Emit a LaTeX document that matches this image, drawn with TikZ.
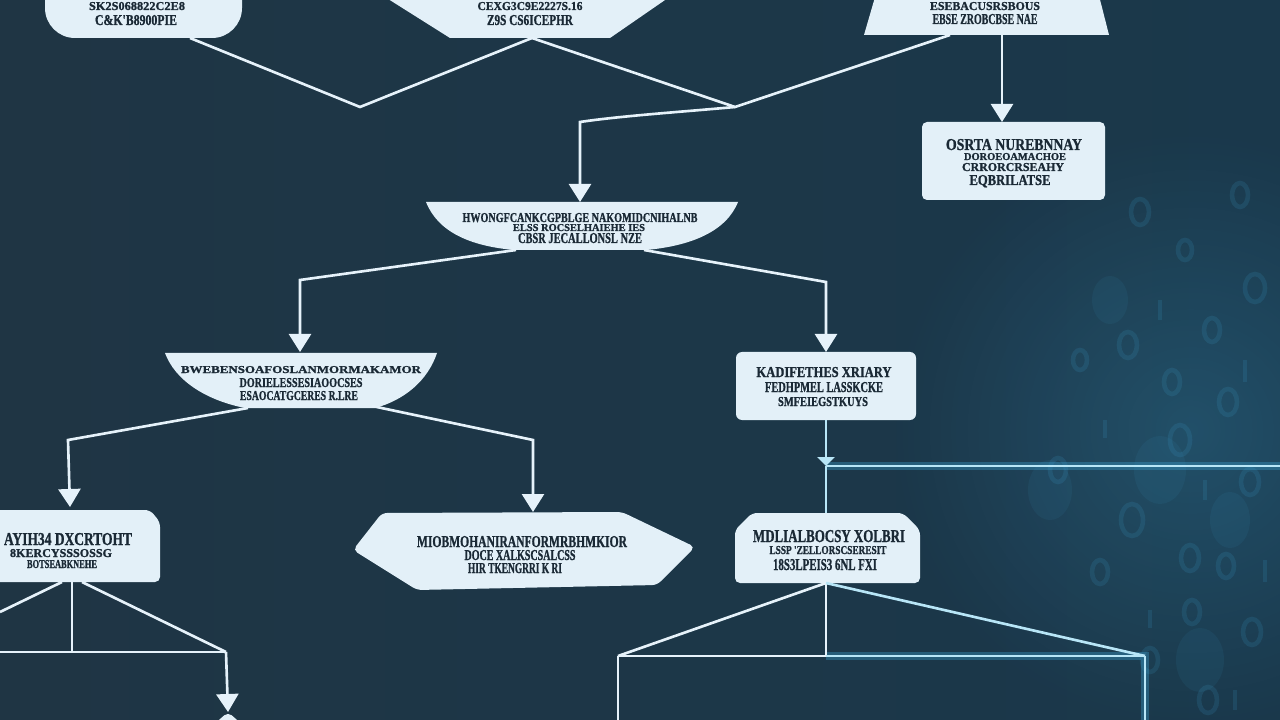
\documentclass[tikz,border=0pt]{standalone}
\usepackage{fontspec}
\usepackage{graphicx}
\newfontfamily\lblfont[BoldFeatures={FakeBold=1.2}]{Liberation Serif}
\usetikzlibrary{arrows.meta,fadings}
\tikzfading[name=glowfade,inner color=transparent!0,outer color=transparent!100]
\definecolor{bgL}{HTML}{1F3544}
\definecolor{bgM}{HTML}{182B38}
\definecolor{bgR}{HTML}{1A384B}
\definecolor{boxfill}{HTML}{E3F0F8}
\definecolor{txt}{HTML}{1A2935}
\definecolor{wire}{HTML}{E6F2FA}
\definecolor{cyanwire}{HTML}{B8E6F7}
\definecolor{glow}{HTML}{3DA4D4}
\newcommand\fitline[3]{\resizebox{\dimexpr0.2mm*#1\relax}{\dimexpr0.2mm*#2\relax}{\lblfont\bfseries #3}}
\begin{document}
\begin{tikzpicture}[x=0.2mm,y=-0.2mm,
  shapebox/.style={fill=boxfill,draw=none},
  ln/.style={text=txt,inner sep=0pt,anchor=base},
  wireline/.style={draw=wire,line width=1.5pt},
  cwire/.style={draw=cyanwire,line width=1.5pt},
  halo/.style={draw=glow,line width=4pt,opacity=0.35},
  tip/.style={-{Triangle[length=3.6mm,width=4.4mm]}},
  smalltip/.style={-{Triangle[length=1.8mm,width=3.4mm]}},
  bokeh/.style={draw=glow,line width=2.6pt,opacity=0.15},
  bokehfill/.style={fill=glow,opacity=0.08},
]
\useasboundingbox (0,0) rectangle (1280,720);
\clip (0,0) rectangle (1280,720);
% background
\shade[left color=bgL,middle color=bgM,right color=bgR] (0,0) rectangle (1280,720);
\fill[glow,path fading=glowfade,opacity=0.22] (1190,430) circle (300);
% bokeh digits (decorative, blurred)
\foreach \px/\py/\rx/\ry in {1140/212/9/13,1255/288/10/14,1212/330/8/12,1128/345/9/13,1172/382/8/12,
  1228/402/9/13,1058/470/8/12,1132/520/11/16,1250/482/9/13,1190/558/9/13,1226/566/8/12,
  1100/572/8/12,1192/612/8/12,1252/632/9/13,1208/700/9/13,1150/660/8/12,1180/440/10/15,1080/360/7/10,
  1240/195/8/12,1185/250/7/10}{
  \draw[bokeh] (\px,\py) ellipse ({\rx} and {\ry});
}
\foreach \px/\py/\rx/\ry in {1050/490/22/30,1160/470/26/34,1230/520/20/28,1110/300/18/24,1200/660/24/32}{
  \fill[bokehfill] (\px,\py) ellipse ({\rx} and {\ry});
}
\foreach \px/\py/\h in {1160/300/20,1245/360/22,1105/420/18,1205/480/20,1265/560/22,1150/610/18,1235/690/20}{
  \draw[bokeh] (\px,\py) -- ++(0,\h);
}

% ---------- shapes ----------
% top-left rounded box
\path[shapebox,rounded corners=6mm] (45,-40) rectangle (242,38);
\node[ln] (tl-1) at (137,10) {\fitline{96}{8}{SK2S068822C2E8}};
\node[ln] (tl-2) at (136,25) {\fitline{82}{10}{C\&K'B8900PIE}};
\coordinate (tl-s) at (190,38);
% top-middle hexagon
\path[shapebox] (358,-20) -- (450,38) -- (610,38) -- (694,-20) -- cycle;
\node[ln] (tm-1) at (530,10) {\fitline{105}{8}{CEXG3C9E2227S.16}};
\node[ln] (tm-2) at (530,25) {\fitline{86}{10}{Z9S CS6ICEPHR}};
\coordinate (tm-s) at (532,38);
% top-right trapezoid
\path[shapebox] (880,-20) -- (864,35) -- (1109,35) -- (1095,-20) -- cycle;
\node[ln] (tr-1) at (985,10) {\fitline{110}{8}{ESEBACUSRSBOUS}};
\node[ln] (tr-2) at (985,24) {\fitline{105}{10}{EBSE ZROBCBSE NAE}};
\coordinate (tr-sw) at (950,35);
\coordinate (tr-s) at (1002,35);
% right box r1
\path[shapebox,rounded corners=1mm] (922,122) rectangle (1105,200);
\node[ln] (r1-1) at (1014,150) {\fitline{136}{11}{OSRTA NUREBNNAY}};
\node[ln] (r1-2) at (1015,160) {\fitline{102}{7}{DOROEOAMACHOE}};
\node[ln] (r1-3) at (1013,171) {\fitline{102}{8}{CRRORCRSEAHY}};
\node[ln] (r1-4) at (1010,185) {\fitline{81}{10}{EQBRILATSE}};
\coordinate (r1-n) at (1002,122);
% center bowl
\path[shapebox] (426,202) -- (738,202) .. controls (726,232) and (690,246) .. (646,250)
  -- (514,250) .. controls (470,246) and (438,232) .. cycle;
\node[ln] (c-1) at (580,222) {\fitline{235}{9}{HWONGFCANKCGPBLGE NAKOMIDCNIHALNB}};
\node[ln] (c-2) at (579,231) {\fitline{132}{7}{ELSS ROCSELHAIEHE IES}};
\node[ln] (c-3) at (580,243) {\fitline{124}{10}{CBSR JECALLONSL NZE}};
\coordinate (c-n) at (580,202);
\coordinate (c-sw) at (516,250);
\coordinate (c-se) at (644,250);
% mid-left bowl
\path[shapebox] (165,353) -- (437,353) .. controls (428,380) and (405,400) .. (375,408)
  -- (245,408) .. controls (205,400) and (175,380) .. cycle;
\node[ln] (ml-1) at (301,373) {\fitline{240}{7}{BWEBENSOAFOSLANMORMAKAMOR}};
\node[ln] (ml-2) at (301,387) {\fitline{123}{9}{DORIELESSESIAOOCSES}};
\node[ln] (ml-3) at (299,400) {\fitline{118}{9}{ESAOCATGCERES R.LRE}};
\coordinate (ml-n) at (300,352);
\coordinate (ml-sw) at (248,408);
\coordinate (ml-se) at (372,406);
% mid-right box
\path[shapebox,rounded corners=1.2mm] (736,352) rectangle (916,420);
\node[ln] (mr-1) at (824,377) {\fitline{135}{10}{KADIFETHES XRIARY}};
\node[ln] (mr-2) at (824,392) {\fitline{118}{10}{FEDHPMEL LASSKCKE}};
\node[ln] (mr-3) at (823,406) {\fitline{90}{9}{SMFEIEGSTKUYS}};
\coordinate (mr-n) at (826,352);
\coordinate (mr-s) at (826,420);
% lower-left box
\path[shapebox,rounded corners=1mm] (-10,582) -- (-10,510) -- (150,510) -- (160,522) -- (160,582) -- cycle;
\node[ln] (ll-1) at (68,545) {\fitline{128}{12}{AYIH34 DXCRTOHT}};
\node[ln] (ll-2) at (61,557) {\fitline{102}{8}{8KERCYSSSOSSG}};
\node[ln] (ll-3) at (62,568) {\fitline{70}{8}{BOTSEABKNEHE}};
\coordinate (ll-n) at (70,507);
\coordinate (ll-s1) at (62,582);
\coordinate (ll-s) at (72,582);
\coordinate (ll-s2) at (82,582);
% lower-middle hexagon
\path[shapebox,rounded corners=1mm] (353,550) -- (382,513) -- (622,512) -- (695,547) -- (657,585) -- (417,590) -- cycle;
\node[ln] (lm-1) at (522,547) {\fitline{210}{11}{MIOBMOHANIRANFORMRBHMKIOR}};
\node[ln] (lm-2) at (520,560) {\fitline{111}{10}{DOCE XALKSCSALCSS}};
\node[ln] (lm-3) at (515,573) {\fitline{94}{10}{HIR TKENGRRI K RI}};
\coordinate (lm-n) at (533,512);
% lower-right box
\path[shapebox,rounded corners=1mm] (735,583) -- (735,530) -- (752,513) -- (903,513) -- (920,530) -- (920,583) -- cycle;
\node[ln] (lr-1) at (829,542) {\fitline{152}{12}{MDLIALBOCSY XOLBRI}};
\node[ln] (lr-2) at (828,554) {\fitline{117}{8}{LSSP 'ZELLORSCSERESIT}};
\node[ln] (lr-3) at (825,570) {\fitline{104}{11}{18S3LPEIS3 6NL FXI}};
\coordinate (lr-n) at (826,513);
\coordinate (lr-s) at (826,583);
% bottom partial diamond
\path[shapebox,rounded corners=1mm] (228,712) -- (262,742) -- (228,772) -- (194,742) -- cycle;
\coordinate (bn-n) at (228,712);

% ---------- connectors ----------
\coordinate (v1) at (360,107);
\coordinate (v2) at (735,107);
\coordinate (k0) at (580,122);
\draw[wireline] (tl-s) -- (v1) -- (tm-s);
\draw[wireline] (tm-s) -- (v2) -- (tr-sw);
\draw[wireline,tip] (v2) .. controls (680,112) and (620,116) .. (k0) -- (c-n);
\draw[wireline,tip] (tr-s) -- (r1-n);

\coordinate (k1) at (300,280);
\coordinate (k2) at (826,282);
\draw[wireline,tip] (c-sw) -- (k1) -- (ml-n);
\draw[wireline,tip] (c-se) -- (k2) -- (mr-n);

\coordinate (k3) at (68,440);
\coordinate (k4) at (533,440);
\draw[wireline,tip] (ml-sw) -- (k3) -- (ll-n);
\draw[wireline,tip] (ml-se) -- (k4) -- (lm-n);

\coordinate (j1) at (826,466);
\coordinate (e1) at (1280,466);
\draw[halo] (j1) -- (e1);
\draw[cwire] (j1) -- (e1);
\draw[cwire,smalltip] (mr-s) -- (j1);
\draw[cwire] (j1) -- (lr-n);

\coordinate (k5) at (618,656);
\coordinate (k6) at (826,656);
\coordinate (k7) at (1145,656);
\coordinate (e2) at (618,720);
\coordinate (e3) at (1145,720);
\draw[halo] (k6) -- (k7) -- (e3);
\draw[wireline] (lr-s) -- (k5);
\draw[wireline] (lr-s) -- (k6);
\draw[cwire] (lr-s) -- (k7);
\draw[wireline] (k5) -- (k6);
\draw[cwire] (k6) -- (k7);
\draw[wireline] (k5) -- (e2);
\draw[cwire] (k7) -- (e3);

\coordinate (e4) at (0,612);
\coordinate (e5) at (0,652);
\coordinate (k8) at (72,652);
\coordinate (k9) at (226,652);
\draw[wireline] (ll-s1) -- (e4);
\draw[wireline] (ll-s) -- (k8);
\draw[wireline] (ll-s2) -- (k9);
\draw[wireline] (e5) -- (k9);
\draw[wireline,tip] (k9) -- (bn-n);
\end{tikzpicture}
\end{document}
